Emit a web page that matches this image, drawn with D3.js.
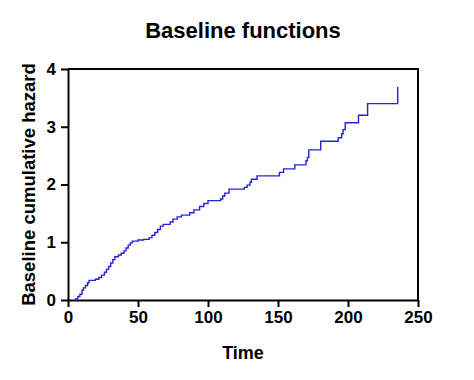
<!DOCTYPE html>
<html>
<head>
<meta charset="utf-8">
<script src="https://cdn.jsdelivr.net/npm/d3@7"></script>
<style>
  html, body { margin: 0; padding: 0; background: #fff; }
  text { font-family: "Liberation Sans", Arial, sans-serif; font-weight: bold; fill: #000; }
</style>
</head>
<body>
<svg id="chart" width="474" height="380"></svg>
<script>
// Data (step function: time -> baseline cumulative hazard)
const times = [4.5, 5.5, 7, 8.5, 10, 11, 12.5, 14, 15, 19.5, 22, 24, 26, 27.5, 29, 30.5, 32, 33.5, 36, 38, 40, 41.5, 43, 44.5, 46, 50, 54, 58, 60, 62, 64, 66, 68, 73, 75, 78, 81, 87, 90, 94, 97, 100, 109, 110.5, 112, 115, 126, 128, 130, 131, 135, 151, 154, 162, 170, 171, 172, 180.5, 193, 195.5, 196.5, 198, 207.5, 214, 235.5];
const hazard = [0.00, 0.02, 0.06, 0.10, 0.17, 0.21, 0.25, 0.30, 0.34, 0.36, 0.39, 0.43, 0.48, 0.53, 0.58, 0.64, 0.70, 0.75, 0.78, 0.81, 0.85, 0.90, 0.95, 0.99, 1.02, 1.04, 1.05, 1.08, 1.12, 1.17, 1.22, 1.28, 1.31, 1.35, 1.40, 1.44, 1.47, 1.51, 1.56, 1.62, 1.67, 1.72, 1.75, 1.80, 1.85, 1.92, 1.95, 1.99, 2.04, 2.09, 2.15, 2.21, 2.27, 2.34, 2.41, 2.47, 2.60, 2.75, 2.81, 2.88, 2.95, 3.07, 3.20, 3.40, 3.69];
const xTicks = [0, 50, 100, 150, 200, 250];
const yTicks = [0, 1, 2, 3, 4];
const title = "Baseline functions";
const xLabel = "Time";
const yLabel = "Baseline cumulative hazard";

(function () {
const svg = d3.select("#chart");
const mL = 68, mR = 418, mT = 69, mB = 300;

const x = d3.scaleLinear().domain([0, 250]).range([mL, mR]);
const y = d3.scaleLinear().domain([0, 4]).range([mB, mT]);

// frame (top and right)
svg.append("path")
  .attr("d", `M${mL},${mT}H${mR}V${mB}`)
  .attr("fill", "none").attr("stroke", "#000").attr("stroke-width", 2);

const xAxis = svg.append("g").attr("transform", `translate(0,${mB})`)
  .call(d3.axisBottom(x).tickValues(xTicks).tickFormat(d3.format("d")).tickSize(7).tickPadding(4).tickSizeOuter(0));
const yAxis = svg.append("g").attr("transform", `translate(${mL},0)`)
  .call(d3.axisLeft(y).tickValues(yTicks).tickFormat(d3.format("d")).tickSize(7).tickPadding(5).tickSizeOuter(0));

[xAxis, yAxis].forEach(g => {
  g.attr("font-size", null).attr("font-family", null);
  g.select(".domain").attr("stroke", "#000").attr("stroke-width", 2);
  g.selectAll(".tick line").attr("stroke", "#000").attr("stroke-width", 2);
  g.selectAll(".tick text").style("font-size", "17px").style("font-family", "'Liberation Sans', Arial, sans-serif").style("font-weight", "bold").attr("fill", "#000");
});

// step line
const pts = times.map((t, i) => [t, hazard[i]]);
const line = d3.line().x(d => x(d[0])).y(d => y(d[1])).curve(d3.curveStepAfter);
svg.append("path").datum(pts)
  .attr("d", line)
  .attr("fill", "none").attr("stroke", "#2424d4").attr("stroke-width", 1.4);

// title and labels
svg.append("text").attr("x", (mL + mR) / 2).attr("y", 38)
  .attr("text-anchor", "middle").style("font-size", "22px").text(title);
svg.append("text").attr("x", (mL + mR) / 2).attr("y", 359)
  .attr("text-anchor", "middle").style("font-size", "18px").text(xLabel);
svg.append("text").attr("transform", `translate(35,${(mT + mB) / 2}) rotate(-90)`)
  .attr("text-anchor", "middle").style("font-size", "18.5px").text(yLabel);
})();
</script>
</body>
</html>
